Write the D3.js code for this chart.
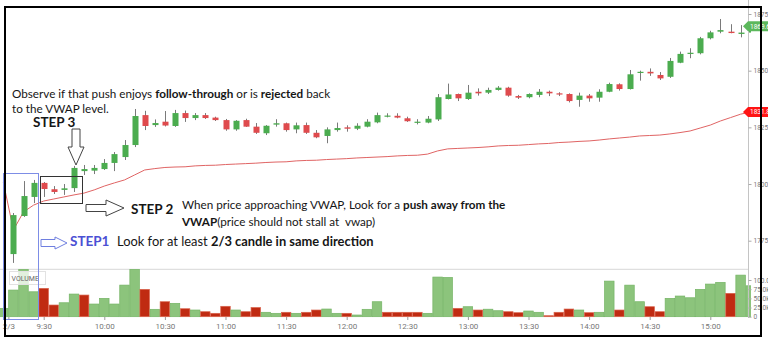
<!DOCTYPE html>
<html><head><meta charset="utf-8">
<script src="https://cdn.jsdelivr.net/npm/d3@7"></script>
<style>
html,body{margin:0;padding:0;background:#fff;}
svg{display:block;font-family:Lato,"Open Sans",sans-serif;}
text{white-space:pre;}
</style></head><body>
<svg id="chart" width="768" height="343"></svg>
<script>
// 5-minute session 2/3, 9:15 → 15:20 (bar index 0 = 9:15)
const opens = [1769.1,1785.9,1794.3,1800.5,1797.7,1797.4,1798.2,1805.7,1805.9,1806.6,
  1809.3,1811.9,1817.2,1830.4,1826.0,1827.5,1825.6,1831.3,1829.1,1830.4,
  1829.3,1828.2,1824.1,1828.2,1825.3,1822.4,1826.2,1826.8,1824.1,1826.0,
  1822.6,1821.2,1823.8,1825.0,1824.4,1825.3,1827.2,1830.0,1830.1,1829.0,
  1827.4,1827.1,1828.5,1837.5,1839.7,1837.5,1840.7,1840.3,1841.5,1842.5,
  1838.8,1838.3,1839.3,1840.7,1840.0,1839.7,1837.1,1839.0,1838.1,1840.7,
  1844.0,1841.9,1849.3,1849.5,1848.1,1847.3,1853.5,1857.4,1857.7,1864.3,
  1867.2,1867.2,1866.2,1866.8];
const highs = [1787.2,1801.3,1801.8,1800.9,1799.1,1800.0,1808.0,1808.4,1808.4,1811.0,
  1814.1,1819.4,1833.1,1832.3,1828.5,1832.2,1832.7,1832.4,1831.3,1831.3,
  1829.7,1828.7,1828.2,1828.8,1826.9,1826.0,1828.6,1827.1,1827.1,1827.1,
  1823.8,1825.0,1827.1,1825.9,1826.8,1828.6,1831.5,1831.2,1831.2,1829.7,
  1828.6,1830.0,1839.7,1844.3,1839.9,1843.7,1842.2,1842.5,1843.2,1842.9,
  1839.3,1840.0,1841.9,1841.2,1840.5,1840.0,1840.3,1839.7,1841.8,1844.7,
  1844.4,1850.3,1850.0,1851.0,1849.4,1855.6,1858.4,1859.9,1864.9,1867.6,
  1872.8,1870.5,1870.1,1870.5];
const lows = [1765.2,1785.5,1791.6,1794.3,1795.6,1795.2,1796.5,1804.0,1804.4,1806.2,
  1805.7,1810.6,1816.3,1823.8,1825.2,1825.4,1825.2,1827.4,1828.2,1828.7,
  1827.8,1823.5,1823.5,1825.2,1822.1,1821.6,1825.3,1823.1,1822.4,1822.1,
  1820.2,1818.0,1823.1,1823.1,1823.8,1825.0,1826.8,1829.4,1829.0,1827.4,
  1826.3,1826.8,1827.8,1837.3,1836.6,1837.1,1839.0,1839.7,1841.2,1838.5,
  1837.5,1837.8,1838.3,1838.8,1838.8,1836.0,1834.1,1836.3,1836.3,1840.5,
  1841.2,1841.7,1845.6,1847.7,1845.9,1846.8,1853.3,1855.5,1857.2,1863.8,
  1866.5,1866.5,1864.7,1866.0];
const closes = [1786.3,1794.7,1800.5,1797.8,1796.5,1798.1,1807.1,1806.6,1807.1,1809.3,
  1813.2,1817.2,1830.0,1825.6,1826.9,1825.8,1831.3,1829.1,1830.4,1829.1,
  1828.2,1824.1,1827.9,1825.3,1822.6,1825.7,1826.8,1823.8,1825.9,1822.6,
  1820.6,1824.1,1824.7,1824.4,1825.7,1827.5,1830.4,1830.2,1829.3,1827.7,
  1827.5,1828.8,1838.3,1839.5,1837.8,1840.3,1840.0,1841.5,1842.5,1839.0,
  1838.1,1839.7,1840.7,1840.0,1839.6,1836.6,1839.0,1837.8,1840.7,1844.1,
  1841.9,1848.4,1849.5,1848.8,1846.6,1854.3,1857.4,1857.9,1864.3,1866.9,
  1867.9,1866.6,1866.8,1869.6];
// volume in thousands of shares
const volumes = [72.6,128.8,67.9,77.2,31.8,38.0,61.7,59.0,34.5,50.0,
  34.5,86.1,128.8,74.5,20.1,40.8,36.4,21.7,18.2,13.6,
  9.2,28.3,18.2,13.6,25.0,12.0,9.2,12.0,9.2,12.0,
  18.2,20.9,9.2,9.2,4.6,20.1,40.8,12.0,12.0,12.0,
  12.0,9.2,108.0,107.0,22.8,27.2,18.2,20.4,16.3,13.6,
  10.9,15.5,12.0,2.7,12.0,20.9,18.2,10.9,12.0,97.0,
  18.2,86.0,40.8,27.2,13.6,50.0,56.3,51.6,74.5,88.9,
  93.5,63.6,113.3,84.2];
const vwap = [1779.7,1787.7,1790.7,1792.5,1793.4,1794.3,1795.2,1796.0,1797.4,1799.1,
  1800.5,1801.8,1804.0,1806.2,1806.8,1807.3,1807.5,1807.6,1808.0,1808.2,
  1808.3,1808.6,1808.8,1809.0,1809.2,1809.5,1809.7,1809.8,1810.2,1810.4,
  1810.5,1810.8,1811.0,1811.2,1811.5,1811.7,1811.9,1812.1,1812.4,1812.6,
  1812.7,1813.2,1814.6,1815.5,1815.7,1815.9,1816.1,1816.4,1816.8,1817.0,
  1817.1,1817.4,1817.7,1817.9,1818.3,1818.5,1818.8,1819.0,1819.4,1819.9,
  1820.3,1820.7,1821.2,1821.4,1821.6,1822.1,1822.7,1823.4,1824.7,1826.0,
  1827.8,1829.3,1830.8,1831.8];
// last bar of the previous session (index -1)
const prevVwap = 1800.9;
const prevVolume = 22.8;

const timeTicks = ["9:30","10:00","10:30","11:00","11:30","12:00","12:30","13:00","13:30","14:00","14:30","15:00"];
const dateTick = "2/3";
const priceTicks = [1775, 1800, 1825, 1850, 1875];
const volumeTicks = [0, 25, 50, 75, 100];

const svg = d3.select("#chart");
const W = 768, H = 343;
const axisX = 748;

const x = d3.scaleLinear().domain([0, 72]).range([13.4, 740.6]);
const y = d3.scaleLinear().domain([1775, 1875]).range([240.7, 14]);
const yv = d3.scaleLinear().domain([0, 100]).range([316.7, 280]);
const step = x(1) - x(0);
const barIndex = t => { const [h, m] = t.split(":").map(Number); return (h * 60 + m - 555) / 5; };

const GREEN = "#4bac4f", RED = "#df4a4d";
const VGREEN = "#8cc47c", VRED = "#c02b12";

svg.append("defs").append("clipPath").attr("id", "plot")
  .append("rect").attr("x", 0).attr("y", 0).attr("width", 751).attr("height", H);

// panel separator
svg.append("line").attr("x1", 0).attr("x2", axisX).attr("y1", 269.3).attr("y2", 269.3)
  .attr("stroke", "#d8d8d8").attr("stroke-width", 1);

const plot = svg.append("g").attr("clip-path", "url(#plot)");

// volume bars, coloured by close versus previous close
const vol = [{i: -1, v: prevVolume, up: true}].concat(volumes.map((v, i) => ({
  i, v, up: i === 0 ? closes[i] >= opens[i] : closes[i] >= closes[i - 1]
})));
plot.append("g").selectAll("rect").data(vol).join("rect")
  .attr("x", d => x(d.i) - step / 2 + 0.3)
  .attr("width", step - 0.6)
  .attr("y", d => yv(d.v))
  .attr("height", d => yv(0) - yv(d.v))
  .attr("fill", d => d.up ? VGREEN : VRED)
  .attr("stroke", d => d.up ? "#74b464" : "#d9634c")
  .attr("stroke-width", 0.7);

// VWAP
const vwapPts = [{i: -1, v: prevVwap}].concat(vwap.map((v, i) => ({i, v})));
plot.append("path").datum(vwapPts)
  .attr("d", d3.line().x(d => x(d.i)).y(d => y(d.v)))
  .attr("fill", "none").attr("stroke", "#e06464").attr("stroke-width", 1);

// candles
const candles = opens.map((o, i) => ({i, o, h: highs[i], l: lows[i], c: closes[i]}));
const cg = plot.append("g").selectAll("g").data(candles).join("g");
cg.append("line")
  .attr("x1", d => Math.round(x(d.i)) + 0.5).attr("x2", d => Math.round(x(d.i)) + 0.5)
  .attr("y1", d => y(d.h)).attr("y2", d => y(d.l))
  .attr("stroke", "#7a7a7a").attr("stroke-width", 1);
cg.append("rect")
  .attr("x", d => Math.round(x(d.i)) - 2.5)
  .attr("width", 6)
  .attr("y", d => y(Math.max(d.o, d.c)))
  .attr("height", d => Math.max(1.2, Math.abs(y(d.o) - y(d.c))))
  .attr("fill", d => d.c >= d.o ? GREEN : RED);

// right price axis
svg.append("line").attr("x1", axisX + 0.5).attr("x2", axisX + 0.5).attr("y1", 0).attr("y2", 318)
  .attr("stroke", "#c4c4c4");
const styleAxis = g => {
  g.select(".domain").remove();
  g.selectAll("line").attr("stroke", "#aaa");
  g.selectAll("text").attr("fill", "#777").attr("font-size", 6.5).attr("font-family", "Roboto, sans-serif");
};
svg.append("g").attr("transform", `translate(${axisX + 0.5},0)`)
  .call(d3.axisRight(y).tickValues(priceTicks).tickFormat(d3.format(".1f")).tickSize(3).tickPadding(2))
  .call(styleAxis);
svg.append("g").attr("transform", `translate(${axisX + 0.5},0)`)
  .call(d3.axisRight(yv).tickValues(volumeTicks).tickFormat(d => d === 0 ? "0" : d3.format(".1f")(d) + "k").tickSize(3).tickPadding(2))
  .call(styleAxis);

// time axis
const xTicks = [-0.5].concat(timeTicks.map(barIndex));
const xLabels = [dateTick].concat(timeTicks);
svg.append("g").attr("transform", "translate(0,317)")
  .call(d3.axisBottom(x).tickValues(xTicks).tickFormat((d, k) => xLabels[k]).tickSize(3).tickPadding(3))
  .call(g => {
    g.select(".domain").remove();
    g.selectAll("line").attr("stroke", "#999");
    g.selectAll("text").attr("fill", "#777").attr("font-size", 8).attr("font-family", "Roboto, sans-serif");
  });

// value tags
function tag(val, fill) {
  const ty = y(val);
  svg.append("path")
    .attr("d", `M743,${ty} L748,${ty - 5} L768,${ty - 5} L768,${ty + 5} L748,${ty + 5} Z`)
    .attr("fill", fill);
  svg.append("text").attr("x", 750).attr("y", ty + 2.5).attr("fill", "#fff")
    .attr("font-size", 6.5).attr("font-family", "Roboto, sans-serif").text(d3.format(".1f")(val));
}
tag(closes[closes.length - 1], "#5cb85c");
tag(vwap[vwap.length - 1], "#ff1414");

// VOLUME legend box
svg.append("rect").attr("x", 9.5).attr("y", 271.5).attr("width", 36).attr("height", 13)
  .attr("fill", "rgba(255,255,255,0.75)").attr("stroke", "#e2e2e2");
svg.append("text").attr("x", 11.5).attr("y", 281).attr("font-size", 7).attr("fill", "#666")
  .attr("font-family", "Roboto, sans-serif").text("VOLUME");

// annotation boxes
svg.append("rect").attr("x", 3.5).attr("y", 173.5).attr("width", 35).attr("height", 146)
  .attr("fill", "none").attr("stroke", "#7d8de6").attr("stroke-width", 1);
svg.append("rect").attr("x", 40.5).attr("y", 176.5).attr("width", 42).attr("height", 27)
  .attr("fill", "none").attr("stroke", "#333").attr("stroke-width", 1);

// arrows
const arrow = (pts, stroke) => svg.append("polygon").attr("points", pts.map(p => p.join(",")).join(" "))
  .attr("fill", "#fff").attr("stroke", stroke).attr("stroke-width", 1);
arrow([[72,129],[80,129],[80,147],[84,147],[76,165],[68,147],[72,147]], "#444");
arrow([[86,204.5],[106,204.5],[106,200],[124,208],[106,216],[106,211.5],[86,211.5]], "#444");
arrow([[41,239.5],[55,239.5],[55,237],[67,243],[55,249],[55,246.5],[41,246.5]], "#6f7fe0");

// text annotations
const note = (tx, ty, parts, size, fill) => {
  const t = svg.append("text").attr("x", tx).attr("y", ty).attr("font-size", size)
    .attr("fill", fill || "#161616").attr("font-family", "Lato, 'Open Sans', sans-serif");
  parts.forEach(([s, b]) => t.append("tspan").attr("font-weight", b ? 700 : 400).text(s));
  return t;
};
note(12, 98, [["Observe if that push enjoys "], ["follow-through", 1], [" or is "], ["rejected", 1], [" back"]], 11.7);
note(12, 113, [["to the VWAP level."]], 11.7);
note(33, 127, [["STEP 3", 1]], 13.5);
note(131, 214, [["STEP 2", 1]], 13.5);
note(182, 209, [["When price approaching VWAP, Look for a "], ["push away from the", 1]], 11.7);
note(182, 226, [["VWAP", 1], ["(price should not stall at  vwap)"]], 11.7);
note(70, 246, [["STEP1", 1]], 13.5, "#4b50d4");
note(117, 246, [["Look for at least "], ["2/3 candle in same direction", 1]], 12.9);

// outer frame
svg.append("rect").attr("x", 5).attr("y", 7).attr("width", 756).attr("height", 329)
  .attr("fill", "none").attr("stroke", "#000").attr("stroke-width", 2);
</script></body></html>
